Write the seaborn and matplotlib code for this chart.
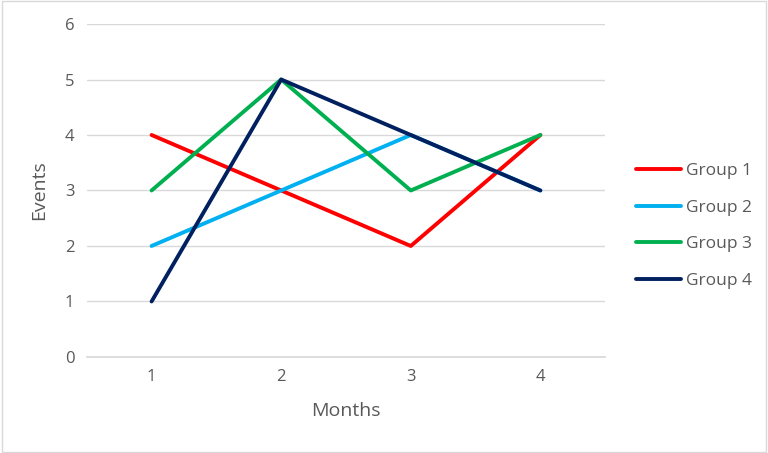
import pandas as pd
import seaborn as sns
import matplotlib.pyplot as plt
from matplotlib.patches import Rectangle

months = [1, 2, 3, 4]
group_1 = [4, 3, 2, 4]
group_2 = [2, 3, 4, 3]
group_3 = [3, 5, 3, 4]
group_4 = [1, 5, 4, 3]
group_names = ["Group 1", "Group 2", "Group 3", "Group 4"]
colors = ["#FF0000", "#00B0F0", "#00B050", "#002060"]

df = pd.DataFrame({"Months": months * 4,
                   "Events": group_1 + group_2 + group_3 + group_4,
                   "Group": [g for g in group_names for _ in months]})

sns.set_theme(style="white")
plt.rcParams["font.family"] = ["Open Sans", "DejaVu Sans"]
text_col = "#595959"

fig = plt.figure(figsize=(7.68, 4.53), dpi=100)
ax = fig.add_axes([0.113, 0.212, 0.675, 0.735])

sns.lineplot(data=df, x="Months", y="Events", hue="Group", palette=colors,
             linewidth=2.8, ax=ax)

ax.set_xlim(0.5, 4.5)
ax.set_ylim(0, 6)
ax.set_xticks(months)
ax.set_yticks(range(0, 7))
ax.yaxis.grid(True, color="#D9D9D9", linewidth=1)
ax.set_axisbelow(True)
for s in ["top", "right", "left"]:
    ax.spines[s].set_visible(False)
ax.spines["bottom"].set_color("#D9D9D9")
ax.tick_params(axis="both", colors=text_col, labelsize=12, length=0, pad=9)
ax.set_xlabel("Months", color=text_col, fontsize=14, labelpad=12)
ax.set_ylabel("Events", color=text_col, fontsize=14, labelpad=12)

# legend sits a bit below the middle of the plot, like Excel puts it
handles, labels = ax.get_legend_handles_labels()
ax.legend(handles, labels, loc="center left", bbox_to_anchor=(1.03, 0.393),
          frameon=False, fontsize=12.5, labelcolor=text_col, handlelength=2.6,
          labelspacing=1.17, handletextpad=0.25)

fig.patches.append(Rectangle((0.002, 0.002), 0.996, 0.996, transform=fig.transFigure,
                             fill=False, edgecolor="#D9D9D9", linewidth=1))

fig.savefig("out.png", dpi=100)
